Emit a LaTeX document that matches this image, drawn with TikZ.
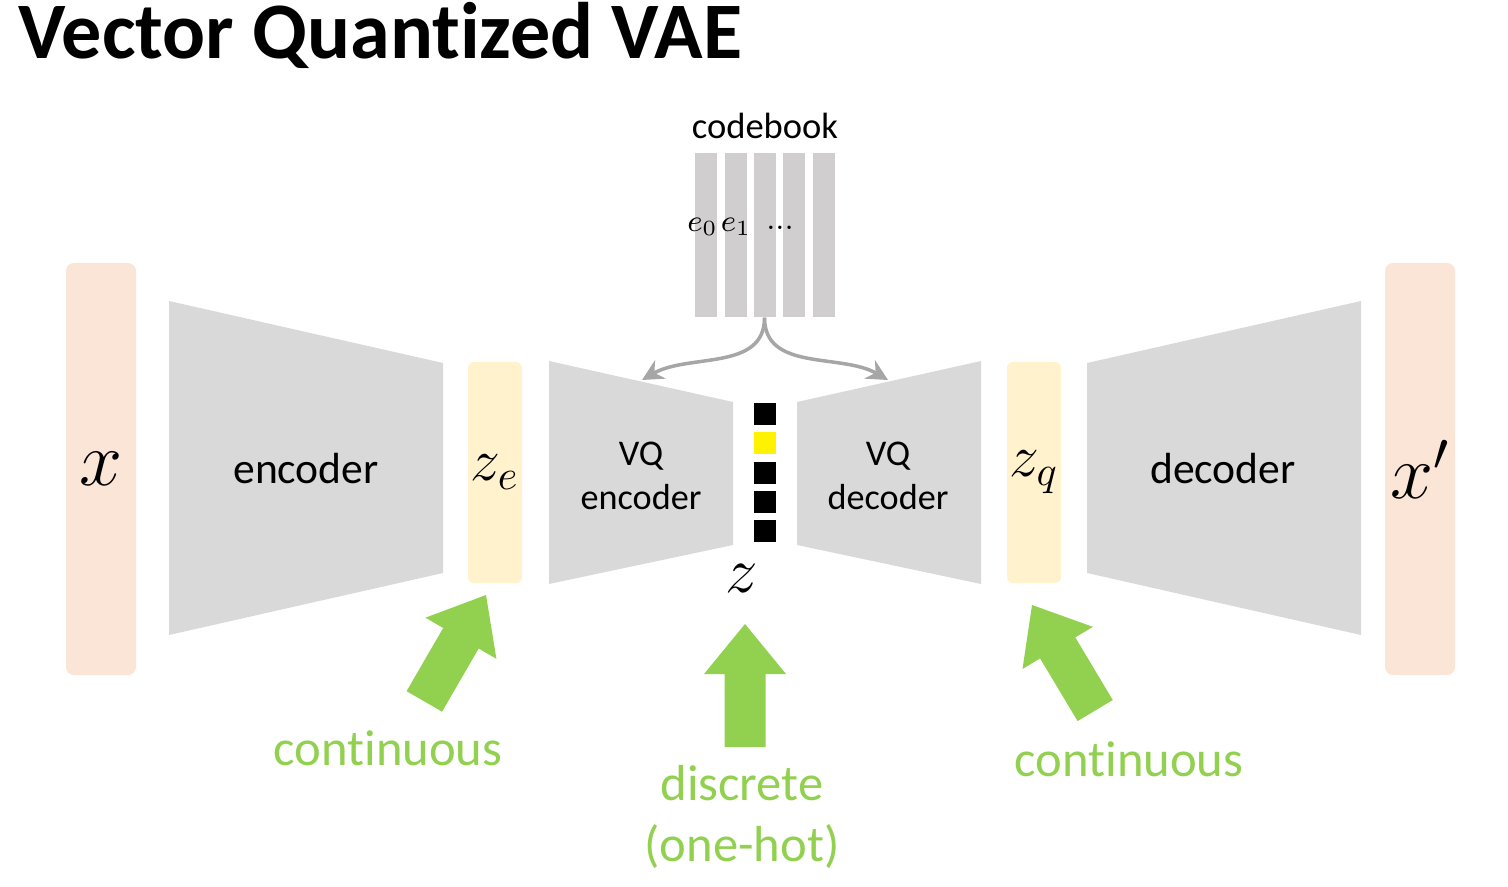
\RequirePackage{fix-cm}
\documentclass[tikz,border=0pt]{standalone}
\usepackage{fontspec}
\setmainfont{Carlito}[Ligatures=NoCommon]
\usepackage{amsmath}
\usetikzlibrary{arrows.meta}

\definecolor{peach}{HTML}{FBE5D6}
\definecolor{paleyellow}{HTML}{FFF2CC}
\definecolor{blockgray}{HTML}{D9D9D9}
\definecolor{bookgray}{HTML}{D0CECE}
\definecolor{arrowgreen}{HTML}{92D050}
\definecolor{linkgray}{HTML}{A6A6A6}

\begin{document}
\begin{tikzpicture}[
        io/.style={rectangle,rounded corners=0.08cm,fill=peach,minimum width=0.70cm,minimum height=4.12cm,inner sep=0pt,font=\fontsize{22}{26}\selectfont},
        latent/.style={rectangle,rounded corners=0.06cm,fill=paleyellow,minimum width=0.54cm,minimum height=2.21cm,inner sep=0pt,font=\fontsize{17}{20}\selectfont},
        block/.style={fill=blockgray},
        blocktext/.style={inner sep=0pt,font=\fontsize{12.4}{15}\selectfont},
        vqtext/.style={inner sep=0pt,align=center,font=\fontsize{10.3}{12.4}\selectfont},
        codeword/.style={rectangle,fill=bookgray,minimum width=0.22cm,minimum height=1.64cm,inner sep=0pt},
        bit/.style={rectangle,fill=black,minimum size=0.22cm,inner sep=0pt},
        link/.style={draw=linkgray,line width=1pt,-{Stealth[length=6pt,width=6pt]}},
        bigarrow/.style={fill=arrowgreen},
        note/.style={inner sep=0pt,text=arrowgreen,align=center,font=\fontsize{14.4}{17.3}\selectfont}]

    \useasboundingbox (0,0) rectangle (15.08,8.86);

    % Title
    \node[anchor=base west,inner sep=0pt,font=\bfseries\fontsize{22.8}{27}\selectfont] (title) at (0.18,8.27) {Vector Quantized VAE};

    % Input and output
    \node[io] (x) at (1.01,4.17) {$x$};
    \node[io] (xp) at (14.20,4.17) {$x'$};

    % Encoder and decoder
    \fill[block] (1.69,5.85) -- (4.43,5.23) -- (4.43,3.13) -- (1.69,2.51) -- cycle;
    \fill[block] (13.61,5.85) -- (10.87,5.23) -- (10.87,3.13) -- (13.61,2.51) -- cycle;
    \node[blocktext] (enc) at (3.06,4.17) {encoder};
    \node[blocktext] (dec) at (12.23,4.17) {decoder};

    % Continuous latents
    \node[latent] (ze) at (4.95,4.135) {$z_e$};
    \node[latent] (zq) at (10.34,4.135) {$z_q$};

    % VQ encoder and VQ decoder
    \fill[block] (5.49,5.25) -- (7.33,4.84) -- (7.33,3.41) -- (5.49,3.02) -- cycle;
    \fill[block] (9.81,5.25) -- (7.97,4.84) -- (7.97,3.41) -- (9.81,3.02) -- cycle;
    \node[vqtext] (vqe) at (6.41,4.10) {VQ\\encoder};
    \node[vqtext] (vqd) at (8.88,4.10) {VQ\\decoder};

    % Discrete code z (one-hot)
    \node[bit] (z1) at (7.645,4.72) {};
    \node[bit,fill=yellow] (z2) at (7.645,4.43) {};
    \node[bit] (z3) at (7.645,4.13) {};
    \node[bit] (z4) at (7.645,3.84) {};
    \node[bit] (z5) at (7.645,3.55) {};
    \node[font=\fontsize{18.5}{22}\selectfont,inner sep=0pt] (zlab) at (7.42,3.08) {$z$};

    % Codebook
    \node[font=\fontsize{10.4}{12.5}\selectfont] (book) at (7.65,7.60) {codebook};
    \node[codeword] (cb1) at (7.06,6.51) {};
    \node[codeword] (cb2) at (7.355,6.51) {};
    \node[codeword] (cb3) at (7.645,6.51) {};
    \node[codeword] (cb4) at (7.94,6.51) {};
    \node[codeword] (cb5) at (8.24,6.51) {};
    \node[anchor=base,inner sep=0pt,font=\fontsize{8.8}{11}\selectfont] (e0) at (7.025,6.54) {$e_0$};
    \node[anchor=base,inner sep=0pt,font=\fontsize{8.8}{11}\selectfont] (e1) at (7.36,6.54) {$e_1$};
    \node[anchor=base,inner sep=0pt,font=\fontsize{8.8}{11}\selectfont] (edots) at (7.80,6.56) {$...$};

    % Codebook lookups
    \coordinate (vqe in) at (6.42,5.06);
    \coordinate (vqd in) at (8.88,5.06);
    \draw[link] (cb3.south) to[out=-90,in=30] (vqe in);
    \draw[link] (cb3.south) to[out=-90,in=150] (vqd in);

    % Green arrows
    \begin{scope}[shift={(4.86,2.91)},rotate=59.9]
        \fill[bigarrow] (0,0) -- (-0.50,0.41) -- (-0.50,0.205) -- (-1.23,0.205) -- (-1.23,-0.205) -- (-0.50,-0.205) -- (-0.50,-0.41) -- cycle;
    \end{scope}
    \begin{scope}[shift={(7.45,2.62)},rotate=90]
        \fill[bigarrow] (0,0) -- (-0.50,0.41) -- (-0.50,0.205) -- (-1.23,0.205) -- (-1.23,-0.205) -- (-0.50,-0.205) -- (-0.50,-0.41) -- cycle;
    \end{scope}
    \begin{scope}[shift={(10.32,2.81)},rotate=120.9]
        \fill[bigarrow] (0,0) -- (-0.50,0.41) -- (-0.50,0.205) -- (-1.23,0.205) -- (-1.23,-0.205) -- (-0.50,-0.205) -- (-0.50,-0.41) -- cycle;
    \end{scope}

    % Labels
    \node[note] (cont1) at (3.88,1.38) {continuous};
    \node[note] (disc) at (7.42,0.69) {discrete\\(one-hot)};
    \node[note] (cont2) at (11.29,1.27) {continuous};

\end{tikzpicture}
\end{document}
